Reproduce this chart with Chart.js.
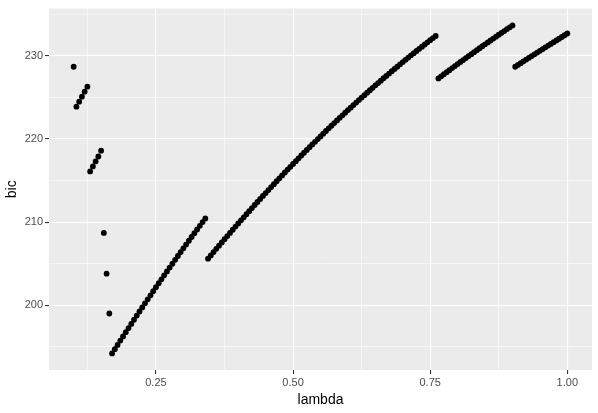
<!DOCTYPE html>
<html><head><meta charset="utf-8">
<script src="https://cdn.jsdelivr.net/npm/chart.js@4"></script>
<style>html,body{margin:0;padding:0;background:#fff}#w{width:598px;height:413px}</style>
</head><body><div id="w"><canvas id="c"></canvas></div>
<script>
const lambda = [
0.100,0.105,0.110,0.115,0.120,0.125,0.130,0.135,0.140,0.145,0.150,0.155,0.160,0.165,
0.170,0.175,0.180,0.185,0.190,0.195,0.200,0.205,0.210,0.215,0.220,0.225,0.230,0.235,0.240,0.245,0.250,0.255,0.260,0.265,0.270,0.275,0.280,0.285,0.290,0.295,0.300,0.305,0.310,0.315,0.320,0.325,0.330,0.335,0.340,
0.345,0.350,0.355,0.360,0.365,0.370,0.375,0.380,0.385,0.390,0.395,0.400,0.405,0.410,0.415,0.420,0.425,0.430,0.435,0.440,0.445,0.450,0.455,0.460,0.465,0.470,0.475,0.480,0.485,0.490,0.495,0.500,0.505,0.510,0.515,0.520,0.525,0.530,0.535,0.540,0.545,0.550,0.555,0.560,0.565,0.570,0.575,0.580,0.585,0.590,0.595,0.600,0.605,0.610,0.615,0.620,0.625,0.630,0.635,0.640,0.645,0.650,0.655,0.660,0.665,0.670,0.675,0.680,0.685,0.690,0.695,0.700,0.705,0.710,0.715,0.720,0.725,0.730,0.735,0.740,0.745,0.750,0.755,0.760,
0.765,0.770,0.775,0.780,0.785,0.790,0.795,0.800,0.805,0.810,0.815,0.820,0.825,0.830,0.835,0.840,0.845,0.850,0.855,0.860,0.865,0.870,0.875,0.880,0.885,0.890,0.895,0.900,
0.905,0.910,0.915,0.920,0.925,0.930,0.935,0.940,0.945,0.950,0.955,0.960,0.965,0.970,0.975,0.980,0.985,0.990,0.995,1.000];
const bic = [
228.7,223.9,224.5,225.1,225.7,226.3,216.1,216.7,217.3,217.9,218.6,208.7,203.8,199.0,
194.20,194.71,195.22,195.74,196.24,196.75,197.25,197.75,198.25,198.75,199.24,199.73,200.22,200.71,201.19,201.68,202.16,202.64,203.11,203.59,204.06,204.53,204.99,205.46,205.92,206.39,206.84,207.30,207.76,208.21,208.66,209.11,209.55,210.00,210.45,
205.60,205.99,206.39,206.78,207.16,207.55,207.94,208.32,208.70,209.08,209.46,209.84,210.21,210.58,210.95,211.32,211.69,212.06,212.42,212.78,213.15,213.50,213.86,214.22,214.57,214.92,215.27,215.62,215.97,216.32,216.66,217.00,217.34,217.68,218.02,218.35,218.68,219.02,219.35,219.67,220.00,220.32,220.65,220.97,221.29,221.61,221.92,222.24,222.55,222.86,223.17,223.48,223.78,224.09,224.39,224.69,224.99,225.28,225.58,225.87,226.17,226.46,226.74,227.03,227.32,227.60,227.88,228.16,228.44,228.71,228.99,229.26,229.53,229.80,230.07,230.34,230.60,230.86,231.12,231.38,231.64,231.90,232.15,232.40,
227.30,227.55,227.80,228.05,228.29,228.54,228.78,229.02,229.27,229.51,229.75,229.98,230.22,230.46,230.70,230.93,231.17,231.40,231.63,231.86,232.09,232.32,232.55,232.78,233.00,233.23,233.45,233.67,
228.70,228.92,229.13,229.35,229.56,229.77,229.98,230.20,230.41,230.62,230.83,231.04,231.25,231.45,231.66,231.87,232.07,232.28,232.49,232.70];
const xGrid = [0.125,0.25,0.375,0.5,0.625,0.75,0.875,1.0];
const xLabels = {0.25:'0.25',0.5:'0.50',0.75:'0.75',1:'1.00'};
const yGrid = [195,200,205,210,215,220,225,230,235];
const yLabels = {200:'200',210:'210',220:'220',230:'230'};

const bg = {id:'bg',beforeDraw(ch){const a=ch.chartArea,c=ch.ctx;c.save();c.fillStyle='#ebebeb';c.fillRect(a.left,a.top,a.right-a.left,a.bottom-a.top);c.restore();}};
const isMajorX = v => xLabels[v]!==undefined;
const isMajorY = v => yLabels[v]!==undefined;
new Chart(document.getElementById('c'),{
  type:'scatter',
  data:{datasets:[{data:lambda.map((x,i)=>({x,y:bic[i]})),backgroundColor:'#000',borderWidth:0,pointRadius:2.9,pointHoverRadius:2.9}]},
  options:{
    responsive:true,maintainAspectRatio:false,animation:false,
    layout:{padding:{top:7,right:6,left:0,bottom:0}},
    plugins:{legend:{display:false},tooltip:{enabled:false}},
    scales:{
      x:{type:'linear',min:0.055,max:1.045,
        afterBuildTicks:s=>{s.ticks=xGrid.map(v=>({value:v}));},
        afterFit:s=>{s.height=43;},
        border:{display:false},
        grid:{color:'#fff',lineWidth:c=>isMajorX(c.tick.value)?1.1:0.55,tickLength:4,
              tickColor:c=>isMajorX(c.tick.value)?'#333':'rgba(0,0,0,0)'},
        ticks:{autoSkip:false,maxRotation:0,padding:2,color:'#4d4d4d',font:{family:'Liberation Sans',size:11},callback:v=>xLabels[v]||''},
        title:{display:true,text:'lambda',color:'#000',font:{family:'Liberation Sans',size:14},padding:{top:2}}
      },
      y:{type:'linear',min:192.2,max:235.7,
        afterBuildTicks:s=>{s.ticks=yGrid.map(v=>({value:v}));},
        afterFit:s=>{s.width=49;},
        border:{display:false},
        grid:{color:'#fff',lineWidth:c=>isMajorY(c.tick.value)?1.1:0.55,tickLength:4,
              tickColor:c=>isMajorY(c.tick.value)?'#333':'rgba(0,0,0,0)'},
        ticks:{autoSkip:false,padding:2,color:'#4d4d4d',font:{family:'Liberation Sans',size:11},callback:v=>yLabels[v]||''},
        title:{display:true,text:'bic',color:'#000',font:{family:'Liberation Sans',size:14},padding:{bottom:2}}
      }
    }
  },
  plugins:[bg]
});
</script></body></html>
